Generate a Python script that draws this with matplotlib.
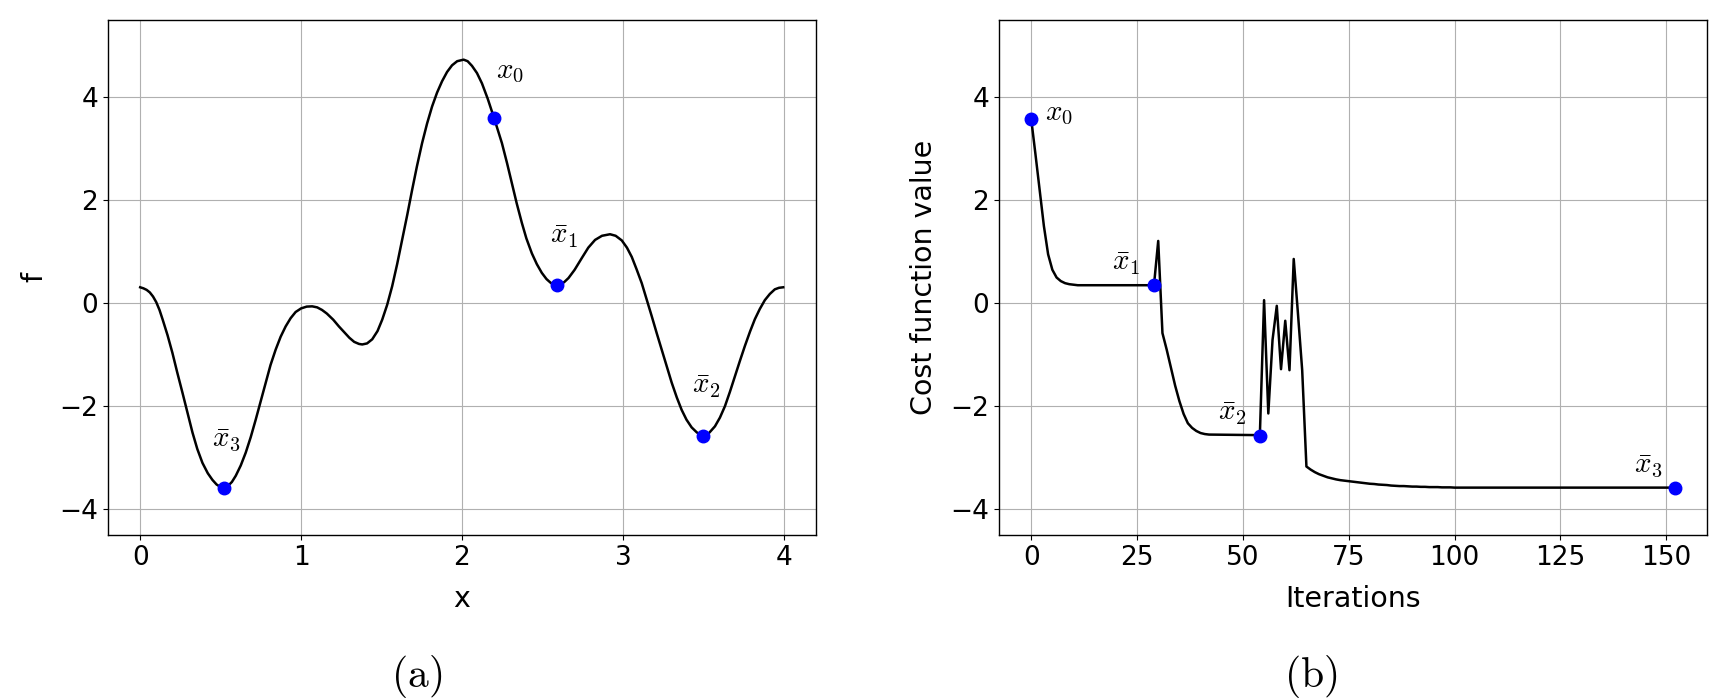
import matplotlib
matplotlib.use("Agg")
import matplotlib.pyplot as plt

plt.rcParams['mathtext.fontset'] = 'cm'
plt.rcParams['font.family'] = ['DejaVu Sans']

# ---- panel (a): objective function ----
x_vals = [0.00, 0.02, 0.04, 0.06, 0.08, 0.10, 0.12, 0.14, 0.17, 0.20, 0.23, 0.263, 0.295,
          0.325, 0.355, 0.387, 0.42, 0.449, 0.475, 0.50, 0.521, 0.545, 0.57, 0.594, 0.625,
          0.656, 0.687, 0.718, 0.75, 0.78, 0.81, 0.842, 0.873, 0.904, 0.935, 0.966, 1.00,
          1.035, 1.069, 1.10, 1.13, 1.16, 1.20, 1.235, 1.27, 1.30, 1.33, 1.36, 1.38, 1.41,
          1.442, 1.475, 1.504, 1.535, 1.566, 1.597, 1.628, 1.66, 1.69, 1.72, 1.752, 1.783,
          1.814, 1.845, 1.876, 1.907, 1.938, 1.97, 2.01, 2.035, 2.062, 2.093, 2.124, 2.16,
          2.2, 2.248, 2.28, 2.31, 2.34, 2.372, 2.40, 2.434, 2.465, 2.496, 2.525, 2.55, 2.57,
          2.589, 2.61, 2.635, 2.662, 2.70, 2.745, 2.785, 2.827, 2.87, 2.92, 2.955, 2.993,
          3.025, 3.055, 3.085, 3.117, 3.148, 3.179, 3.21, 3.241, 3.272, 3.303, 3.335, 3.365,
          3.395, 3.427, 3.46, 3.5, 3.535, 3.572, 3.603, 3.634, 3.665, 3.696, 3.727, 3.758,
          3.79, 3.82, 3.851, 3.882, 3.913, 3.944, 3.97, 3.996]
f_vals = [0.31, 0.29, 0.26, 0.21, 0.13, 0.02, -0.13, -0.32, -0.62, -0.96, -1.34, -1.74, -2.14,
          -2.51, -2.83, -3.10, -3.30, -3.43, -3.52, -3.57, -3.58, -3.55, -3.47, -3.35, -3.15,
          -2.90, -2.60, -2.26, -1.89, -1.54, -1.20, -0.90, -0.65, -0.45, -0.29, -0.17, -0.10,
          -0.065, -0.06, -0.08, -0.13, -0.20, -0.32, -0.45, -0.57, -0.67, -0.75, -0.79, -0.80,
          -0.78, -0.70, -0.54, -0.32, -0.03, 0.33, 0.76, 1.23, 1.72, 2.20, 2.66, 3.11, 3.49,
          3.82, 4.09, 4.31, 4.49, 4.62, 4.70, 4.73, 4.70, 4.61, 4.47, 4.27, 3.97,
          3.59, 3.11, 2.72, 2.33, 1.94, 1.56, 1.26, 0.97, 0.76, 0.59, 0.47, 0.40, 0.36,
          0.35, 0.36, 0.41, 0.49, 0.65, 0.88, 1.08, 1.23, 1.31, 1.34, 1.31, 1.22,
          1.08, 0.90, 0.66, 0.39, 0.07, -0.25, -0.58, -0.90, -1.22, -1.54, -1.83, -2.07,
          -2.26, -2.41, -2.51, -2.57, -2.52, -2.39, -2.22, -2.00, -1.72, -1.42, -1.12, -0.83,
          -0.55, -0.31, -0.11, 0.06, 0.18, 0.27, 0.30, 0.31]

pt_x = [2.2, 2.59, 3.5, 0.52]
pt_f = [3.6, 0.35, -2.57, -3.58]
pt_labels = [r'$x_0$', r'$\bar{x}_1$', r'$\bar{x}_2$', r'$\bar{x}_3$']
lab_a_pos = [(2.21, 4.38), (2.548, 1.17), (3.427, -1.74), (0.449, -2.78)]

# ---- panel (b): cost vs iterations ----
iters = [0, 1, 2, 3, 4, 5, 6, 7, 8, 9, 10, 11, 28, 29, 30, 31, 32, 33, 34, 35, 36, 37, 38,
         39, 40, 41, 42, 53, 54, 55, 56, 57, 58, 59, 60, 61, 62, 63, 64, 65, 66, 67, 68,
         69, 70, 71, 72, 73, 74, 75, 76, 77, 78, 79, 80, 81, 82, 83, 84, 85, 86, 87, 88,
         89, 90, 91, 92, 93, 94, 95, 96, 97, 98, 99, 100, 152]
cost = [3.58, 2.9, 2.2, 1.5, 0.95, 0.65, 0.5, 0.43, 0.39, 0.37, 0.36, 0.35, 0.35, 0.35,
        1.21, -0.58, -0.9, -1.25, -1.6, -1.9, -2.15, -2.33, -2.42, -2.48, -2.52, -2.54,
        -2.55, -2.56, -2.57, 0.06, -2.14, -0.71, -0.05, -1.28, -0.34, -1.30, 0.86, -0.2,
        -1.3, -3.17, -3.23, -3.28, -3.32, -3.35, -3.38, -3.40, -3.42, -3.435, -3.445,
        -3.455, -3.465, -3.475, -3.485, -3.495, -3.505, -3.51, -3.52, -3.525, -3.53,
        -3.54, -3.545, -3.55, -3.55, -3.555, -3.56, -3.56, -3.565, -3.565, -3.57, -3.57,
        -3.57, -3.575, -3.575, -3.575, -3.58, -3.58]

pt_it = [0, 29, 54, 152]
pt_cost = [3.58, 0.35, -2.57, -3.58]
lab_b_pos = [(3.2, 3.55), (19.2, 0.645), (44.1, -2.26), (142.4, -3.28)]

W, H = 1727, 699
fig = plt.figure(figsize=(W / 100, H / 100), dpi=100)
ax1 = fig.add_axes([108 / W, (H - 535) / H, 708 / W, 515 / H])
ax2 = fig.add_axes([999 / W, (H - 535) / H, 708 / W, 515 / H])

TICK = 19
LAB = 20.5
ANN = 21

ax1.plot(x_vals, f_vals, color='black', lw=1.8, zorder=2)
ax1.plot(pt_x, pt_f, 'o', color='blue', ms=9, zorder=3)
for (tx, ty), s in zip(lab_a_pos, pt_labels):
    ax1.text(tx, ty, s, fontsize=ANN, ha='left', va='baseline')
ax1.set_xlim(-0.2, 4.2)
ax1.set_ylim(-4.5, 5.5)
ax1.set_xticks([0, 1, 2, 3, 4])
ax1.set_yticks([-4, -2, 0, 2, 4])
ax1.set_xlabel('x', fontsize=LAB, labelpad=10)
ax1.set_ylabel('f', fontsize=LAB, labelpad=8)

ax2.plot(iters, cost, color='black', lw=1.8, zorder=2)
ax2.plot(pt_it, pt_cost, 'o', color='blue', ms=9, zorder=3)
for (tx, ty), s in zip(lab_b_pos, pt_labels):
    ax2.text(tx, ty, s, fontsize=ANN, ha='left', va='baseline')
ax2.set_xlim(-7.6, 159.6)
ax2.set_ylim(-4.5, 5.5)
ax2.set_xticks([0, 25, 50, 75, 100, 125, 150])
ax2.set_yticks([-4, -2, 0, 2, 4])
ax2.set_xlabel('Iterations', fontsize=LAB, labelpad=10)
ax2.set_ylabel('Cost function value', fontsize=LAB, labelpad=9)

for ax in (ax1, ax2):
    ax.grid(True, color='#b0b0b0', lw=0.8)
    ax.set_axisbelow(True)
    ax.tick_params(labelsize=TICK)
    for sp in ax.spines.values():
        sp.set_linewidth(1.0)

fig.text(417 / W, 1 - 676 / H, r'$\mathrm{(a)}$', fontsize=30, ha='center', va='center')
fig.text(1311 / W, 1 - 676 / H, r'$\mathrm{(b)}$', fontsize=30, ha='center', va='center')

fig.savefig('out.png', dpi=100)
